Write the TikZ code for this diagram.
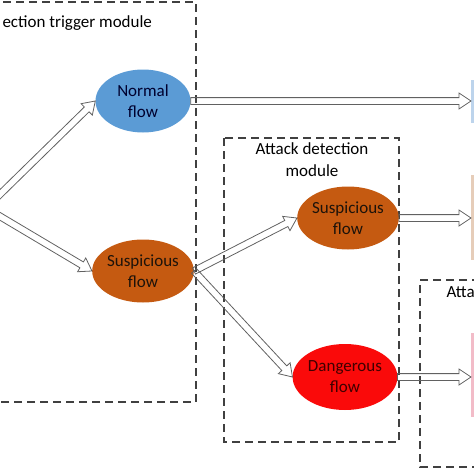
\documentclass[tikz,border=0pt]{standalone}
\usepackage{fontspec}
\setmainfont{Carlito}
\usetikzlibrary{positioning,calc,shapes.geometric}

\definecolor{normalblue}{HTML}{5B9BD5}
\definecolor{suspbrown}{HTML}{C55A11}
\definecolor{dangerred}{HTML}{FA0A0A}
\definecolor{outblue}{HTML}{BDD4EC}
\definecolor{outtan}{HTML}{E6CDB9}
\definecolor{outpink}{HTML}{F2BCC8}

\tikzstyle{flownode}=[ellipse,minimum width=95pt,minimum height=63pt,inner sep=0pt,align=center,font=\fontsize{17}{21}\selectfont]
\tikzstyle{flowarrow} = [draw=black!62,line width=0.8pt,line join=miter]
\tikzstyle{module}=[draw=black!75,line width=1.3pt,dash pattern=on 8pt off 5pt]
\tikzstyle{outbox}=[rectangle,anchor=north west,minimum width=20pt,inner sep=0pt]
\tikzstyle{modtitle}=[font=\fontsize{17}{22}\selectfont,align=center]

% hollow block arrow from #1 to #2
\newcommand{\flowlink}[2]{%
  \coordinate (fl-s) at (#1);
  \coordinate (fl-e) at (#2);
  \coordinate (fl-b) at ($(fl-e)!12pt!(fl-s)$);
  \draw[flowarrow] ($(fl-s)!3.4pt!90:(fl-e)$) -- ($(fl-b)!3.4pt!90:(fl-e)$)
    -- ($(fl-b)!8pt!90:(fl-e)$) -- (fl-e) -- ($(fl-b)!8pt!-90:(fl-e)$)
    -- ($(fl-b)!3.4pt!-90:(fl-e)$) -- ($(fl-s)!3.4pt!-90:(fl-e)$) -- cycle;
}

\begin{document}
\begin{tikzpicture}[x=1pt,y=-1pt]
  \useasboundingbox (0,0) rectangle (474,474);

  % module frames
  \draw[module] (-10,2) -- (196,2) -- (196,402) -- (-10,402);
  \draw[module] (224,138) rectangle (399,442);
  \draw[module] (480,280) -- (420,280) -- (420,467) -- (480,467);

  \node[modtitle,anchor=west] (trigger) at (-1,23) {ection trigger module};
  \node[modtitle] (detection) at (312,160) {Attack detection\\module};
  \node[modtitle,anchor=west] (response) at (443,292) {Atta};

  % flows
  \foreach \pos / \name / \col / \tcol / \txt in
      {{(143,101)/normal/normalblue/black!70!blue!60!black/Normal\\flow},
       {(143,271)/susp/suspbrown/black!85!brown/Suspicious\\flow},
       {(348,218)/recheck/suspbrown/black!85!brown/Suspicious\\flow}}
    \node[flownode,fill=\col,text=\tcol] (\name) at \pos {\txt};

  \node[flownode,fill=dangerred,text=black!75!red,minimum width=101pt,minimum height=66pt] (danger) at (345,377) {Dangerous\\flow};

  \node[outbox,fill=outblue,minimum height=43pt] (out1) at (471,80) {};
  \node[outbox,fill=outtan,minimum height=85pt] (out2) at (471,175) {};
  \node[outbox,fill=outpink,minimum height=84pt] (out3) at (471,333) {};

  \coordinate (src) at (-14,208);

  % Connect flows with arrows
  \flowlink{src}{normal.west}
  \flowlink{src}{susp.west}
  \flowlink{susp.east}{recheck.west}
  \flowlink{susp.east}{danger.west}
  \flowlink{normal.east}{normal.east -| out1.west}
  \flowlink{recheck.east}{recheck.east -| out2.west}
  \flowlink{danger.east}{danger.east -| out3.west}
\end{tikzpicture}
\end{document}
